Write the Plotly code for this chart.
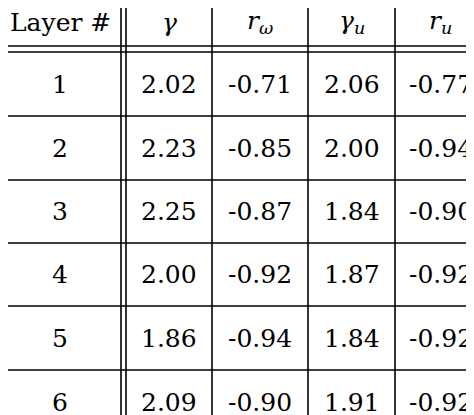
import plotly.graph_objects as go

# table contents
headers = ["Layer #", "<i>γ</i>", "<i>r</i><sub><i>ω</i></sub>",
           "<i>γ</i><sub><i>u</i></sub>", "<i>r</i><sub><i>u</i></sub>"]
layers = ["1", "2", "3", "4", "5", "6"]
gamma = ["2.02", "2.23", "2.25", "2.00", "1.86", "2.09"]
r_omega = ["-0.71", "-0.85", "-0.87", "-0.92", "-0.94", "-0.90"]
gamma_u = ["2.06", "2.00", "1.84", "1.87", "1.84", "1.91"]
r_u = ["-0.77", "-0.94", "-0.90", "-0.92", "-0.92", "-0.92"]

# layout in pixel units (page offset of 8px compensated in axis ranges)
col_edges = [-6, 126, 212, 308, 395, 486]
row_edges = [52, 116, 180, 243, 306, 370, 434]
header_y = 22

fig = go.Figure()
font = dict(family="DejaVu Serif, Liberation Serif, serif", size=25, color="black")

centers = [(a + b) / 2 for a, b in zip(col_edges[:-1], col_edges[1:])]
centers[0] = 60

for x, h in zip(centers, headers):
    fig.add_annotation(x=x, y=header_y, text=h, showarrow=False, font=font)

columns = [layers, gamma, r_omega, gamma_u, r_u]
for i in range(len(layers)):
    yc = (row_edges[i] + row_edges[i + 1]) / 2
    for x, col in zip(centers, columns):
        fig.add_annotation(x=x, y=yc, text=col[i], showarrow=False, font=font)

line = dict(color="black", width=1.6)
# vertical rules (double after first column)
for x in [121] + col_edges[1:-1]:
    fig.add_shape(type="line", x0=x, x1=x, y0=-5, y1=430, line=line)
# horizontal rules (double under header)
for y in [46] + row_edges[:-1]:
    fig.add_shape(type="line", x0=-5, x1=490, y0=y, y1=y, line=line)

fig.update_xaxes(range=[8, 482], visible=False)
fig.update_yaxes(range=[423, 8], visible=False)
fig.update_layout(width=474, height=415, margin=dict(l=0, r=0, t=0, b=0),
                  plot_bgcolor="white", paper_bgcolor="white")
fig.write_html("out.html")
